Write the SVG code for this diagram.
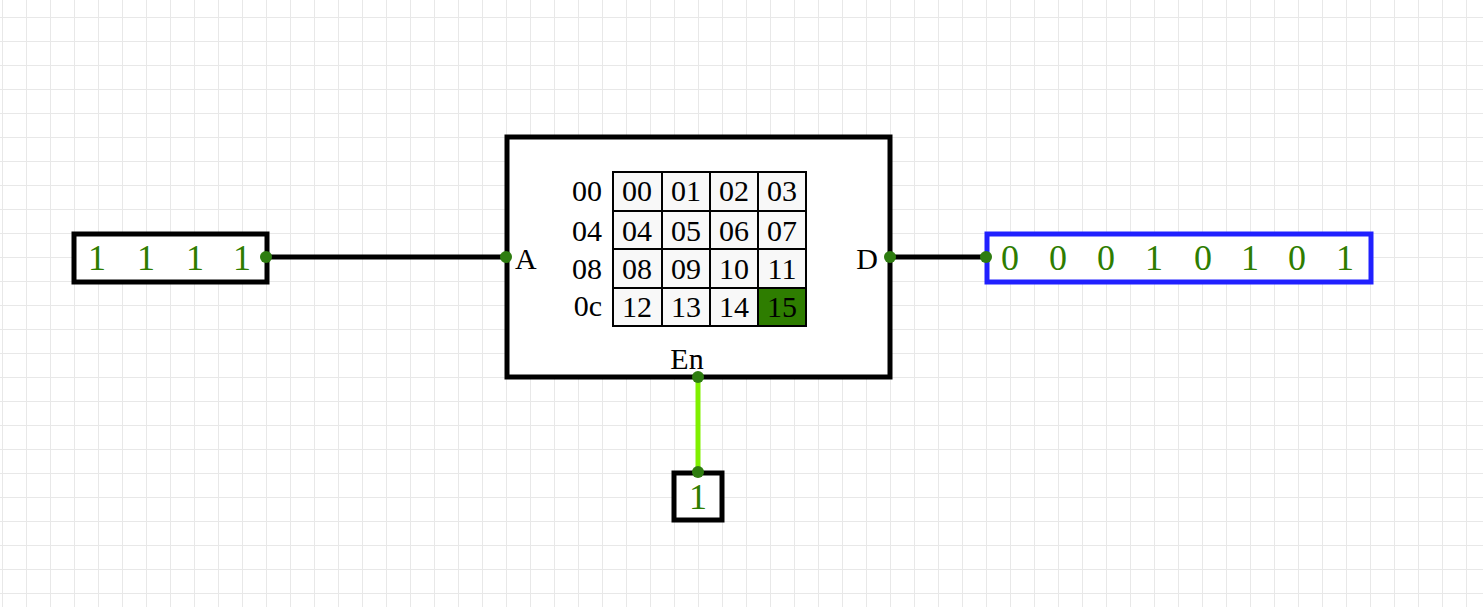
<svg xmlns="http://www.w3.org/2000/svg" width="1483" height="607" viewBox="0 0 1483 607">
<defs>
<pattern id="grid" x="2" y="17" width="24" height="24" patternUnits="userSpaceOnUse"><path d="M0.5 0V24M0 0.5H24" stroke="#e8e8e8" stroke-width="1" fill="none"/></pattern>
</defs>
<style>
.box{fill:#fff;stroke:#000;stroke-width:5}
.t{font-family:"Liberation Serif",serif;font-size:30px}
.g{fill:#2e7d00;font-size:36px;text-anchor:middle}
.c{fill:#f8f8f8;stroke:#000;stroke-width:2}
.dot{fill:#2e7d10}
.w{stroke:#000;stroke-width:5;fill:none}
</style>
<rect width="1483" height="607" fill="#fff"/>
<rect width="1483" height="607" fill="url(#grid)"/>
<g id="connectors">
<path class="w" d="M266 257H506"/>
<path class="w" d="M890 257H986"/>
<path d="M698 377V472" stroke="#80f000" stroke-width="5"/>
</g>
<g id="input">
<rect class="box" x="74" y="234" width="193" height="48"/>
<g class="t g"><text x="97" y="270">1</text><text x="146" y="270">1</text><text x="195" y="270">1</text><text x="242" y="270">1</text></g>
<circle class="dot" cx="266" cy="257" r="6"/>
</g>
<g id="rom">
<rect class="box" x="507" y="137" width="383" height="240"/>
<g class="t" font-size="29" text-anchor="end">
<text x="602" y="201">00</text><text x="602" y="241">04</text><text x="602" y="279">08</text><text x="602" y="316">0c</text>
</g>
<g>
<rect class="c" x="613" y="172" width="49" height="39"/><rect class="c" x="662" y="172" width="48" height="39"/><rect class="c" x="710" y="172" width="48" height="39"/><rect class="c" x="758" y="172" width="48" height="39"/>
<rect class="c" x="613" y="211" width="49" height="38"/><rect class="c" x="662" y="211" width="48" height="38"/><rect class="c" x="710" y="211" width="48" height="38"/><rect class="c" x="758" y="211" width="48" height="38"/>
<rect class="c" x="613" y="249" width="49" height="39"/><rect class="c" x="662" y="249" width="48" height="39"/><rect class="c" x="710" y="249" width="48" height="39"/><rect class="c" x="758" y="249" width="48" height="39"/>
<rect class="c" x="613" y="288" width="49" height="38"/><rect class="c" x="662" y="288" width="48" height="38"/><rect class="c" x="710" y="288" width="48" height="38"/><rect x="758" y="288" width="48" height="38" fill="#2e7d00" stroke="#000" stroke-width="2"/>
</g>
<g class="t" font-size="29" text-anchor="middle">
<text x="637" y="201">00</text><text x="686" y="201">01</text><text x="734" y="201">02</text><text x="782" y="201">03</text>
<text x="637" y="241">04</text><text x="686" y="241">05</text><text x="734" y="241">06</text><text x="782" y="241">07</text>
<text x="637" y="279">08</text><text x="686" y="279">09</text><text x="734" y="279">10</text><text x="782" y="279">11</text>
<text x="637" y="317">12</text><text x="686" y="317">13</text><text x="734" y="317">14</text><text x="782" y="317">15</text>
</g>
<text class="t" x="515" y="269" font-size="32">A</text>
<text class="t" x="878" y="269" font-size="32" text-anchor="end">D</text>
<text class="t" x="687" y="369" font-size="32" text-anchor="middle">En</text>
<circle class="dot" cx="506" cy="257" r="6"/>
<circle class="dot" cx="890" cy="257" r="6"/>
<circle class="dot" cx="698" cy="377" r="6"/>
</g>
<g id="output">
<rect x="987" y="234" width="384" height="48" fill="#fff" stroke="#2020ff" stroke-width="5"/>
<g class="t g"><text x="1010" y="270">0</text><text x="1058" y="270">0</text><text x="1106" y="270">0</text><text x="1154" y="270">1</text><text x="1203" y="270">0</text><text x="1250" y="270">1</text><text x="1297" y="270">0</text><text x="1345" y="270">1</text></g>
<circle class="dot" cx="986" cy="257" r="6"/>
</g>
<g id="enable">
<rect class="box" x="674" y="473" width="48" height="47"/>
<text class="t g" x="698" y="509">1</text>
<circle class="dot" cx="698" cy="472" r="6"/>
</g>
</svg>
